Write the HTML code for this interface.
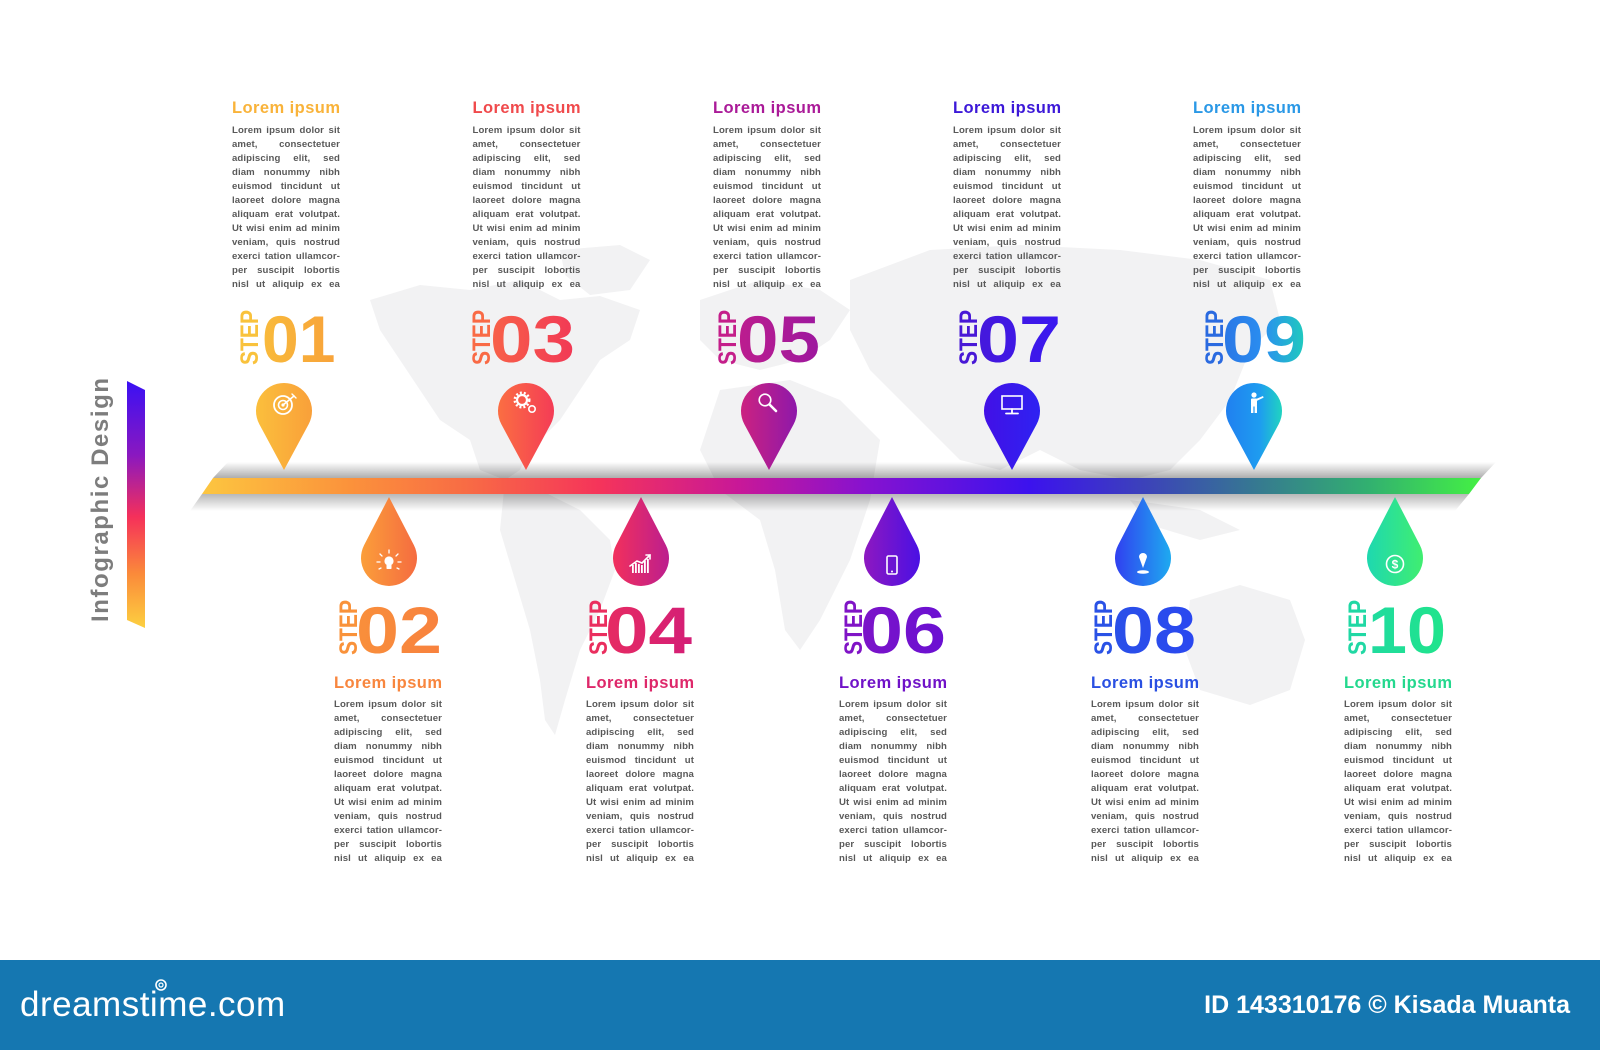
<!DOCTYPE html>
<html>
<head>
<meta charset="utf-8">
<style>
html,body{margin:0;padding:0;background:#fff;}
#wrap{position:relative;width:1600px;height:1050px;overflow:hidden;background:#fff;}
svg{position:absolute;left:0;top:0;}
.col{position:absolute;width:108px;font-family:"Liberation Sans",sans-serif;font-weight:bold;font-size:9.6px;letter-spacing:0.1px;color:#595959;line-height:14px;}
.col div{text-align:justify;text-align-last:justify;height:14px;}
</style>
</head>
<body>
<div id="wrap">
<svg width="1600" height="1050" viewBox="0 0 1600 1050" xmlns="http://www.w3.org/2000/svg">
<defs>
  <linearGradient id="bar" gradientUnits="userSpaceOnUse" x1="202" y1="0" x2="1481" y2="0">
    <stop offset="0" stop-color="#fcc640"/>
    <stop offset="0.116" stop-color="#fb923b"/>
    <stop offset="0.21" stop-color="#f86a45"/>
    <stop offset="0.31" stop-color="#f5345a"/>
    <stop offset="0.42" stop-color="#c81898"/>
    <stop offset="0.52" stop-color="#8612d0"/>
    <stop offset="0.647" stop-color="#3c12ee"/>
    <stop offset="0.74" stop-color="#3c44b8"/>
    <stop offset="0.826" stop-color="#367a90"/>
    <stop offset="0.912" stop-color="#32b070"/>
    <stop offset="1" stop-color="#44f044"/>
  </linearGradient>
  <linearGradient id="shTop" x1="0" y1="0" x2="0" y2="1">
    <stop offset="0" stop-color="#000" stop-opacity="0"/>
    <stop offset="1" stop-color="#000" stop-opacity="0.32"/>
  </linearGradient>
  <linearGradient id="shBot" x1="0" y1="0" x2="0" y2="1">
    <stop offset="0" stop-color="#000" stop-opacity="0.28"/>
    <stop offset="1" stop-color="#000" stop-opacity="0"/>
  </linearGradient>
  <linearGradient id="vbar" x1="0" y1="0" x2="0" y2="1">
    <stop offset="0" stop-color="#3a10f4"/>
    <stop offset="0.3" stop-color="#8a18c0"/>
    <stop offset="0.55" stop-color="#f5305a"/>
    <stop offset="0.78" stop-color="#fb8a3a"/>
    <stop offset="1" stop-color="#fcd040"/>
  </linearGradient>
  <linearGradient id="p1" x1="0" y1="0" x2="1" y2="0"><stop offset="0" stop-color="#fbbf3c"/><stop offset="1" stop-color="#f9a03a"/></linearGradient>
  <linearGradient id="p3" x1="0" y1="0" x2="1" y2="0"><stop offset="0" stop-color="#fb6e42"/><stop offset="1" stop-color="#f43c56"/></linearGradient>
  <linearGradient id="p5" x1="0" y1="0" x2="1" y2="0"><stop offset="0" stop-color="#cc2280"/><stop offset="1" stop-color="#8e18aa"/></linearGradient>
  <linearGradient id="p7" x1="0" y1="0" x2="1" y2="0"><stop offset="0" stop-color="#4210e6"/><stop offset="1" stop-color="#2e22f2"/></linearGradient>
  <linearGradient id="p9" x1="0" y1="0" x2="1" y2="0"><stop offset="0" stop-color="#2080f0"/><stop offset="0.6" stop-color="#1e9cf0"/><stop offset="1" stop-color="#20d4c0"/></linearGradient>
  <linearGradient id="p2" x1="0" y1="0" x2="1" y2="0"><stop offset="0" stop-color="#fb9e3a"/><stop offset="1" stop-color="#f56c40"/></linearGradient>
  <linearGradient id="p4" x1="0" y1="0" x2="1" y2="0"><stop offset="0" stop-color="#f2305c"/><stop offset="1" stop-color="#bc1e8e"/></linearGradient>
  <linearGradient id="p6" x1="0" y1="0" x2="1" y2="0"><stop offset="0" stop-color="#8e18c0"/><stop offset="1" stop-color="#4a10e4"/></linearGradient>
  <linearGradient id="p8" x1="0" y1="0" x2="1" y2="0"><stop offset="0" stop-color="#3040f0"/><stop offset="1" stop-color="#1eaaf0"/></linearGradient>
  <linearGradient id="p10" x1="0" y1="0" x2="1" y2="0"><stop offset="0" stop-color="#1ed8b0"/><stop offset="1" stop-color="#40ee70"/></linearGradient>
  <linearGradient id="s1" gradientUnits="userSpaceOnUse" x1="239" y1="0" x2="330" y2="0"><stop offset="0" stop-color="#f9c23c"/><stop offset="1" stop-color="#f8a43a"/></linearGradient>
  <linearGradient id="s3" gradientUnits="userSpaceOnUse" x1="472" y1="0" x2="572" y2="0"><stop offset="0" stop-color="#f96a45"/><stop offset="1" stop-color="#f23a55"/></linearGradient>
  <linearGradient id="s5" gradientUnits="userSpaceOnUse" x1="718" y1="0" x2="817" y2="0"><stop offset="0" stop-color="#c41e8a"/><stop offset="1" stop-color="#9e189e"/></linearGradient>
  <linearGradient id="s7" gradientUnits="userSpaceOnUse" x1="958" y1="0" x2="1057" y2="0"><stop offset="0" stop-color="#4818d6"/><stop offset="1" stop-color="#3a18f0"/></linearGradient>
  <linearGradient id="s9" gradientUnits="userSpaceOnUse" x1="1203" y1="0" x2="1303" y2="0"><stop offset="0" stop-color="#2a6ae0"/><stop offset="0.6" stop-color="#2a8ef0"/><stop offset="1" stop-color="#20c8c0"/></linearGradient>
  <linearGradient id="s2" gradientUnits="userSpaceOnUse" x1="337" y1="0" x2="439" y2="0"><stop offset="0" stop-color="#f9923a"/><stop offset="1" stop-color="#f8823e"/></linearGradient>
  <linearGradient id="s4" gradientUnits="userSpaceOnUse" x1="587" y1="0" x2="690" y2="0"><stop offset="0" stop-color="#ea2e5e"/><stop offset="1" stop-color="#d41e76"/></linearGradient>
  <linearGradient id="s6" gradientUnits="userSpaceOnUse" x1="842" y1="0" x2="943" y2="0"><stop offset="0" stop-color="#8014c6"/><stop offset="1" stop-color="#6a10d2"/></linearGradient>
  <linearGradient id="s8" gradientUnits="userSpaceOnUse" x1="1092" y1="0" x2="1193" y2="0"><stop offset="0" stop-color="#2a52e6"/><stop offset="1" stop-color="#2a48f0"/></linearGradient>
  <linearGradient id="s10" gradientUnits="userSpaceOnUse" x1="1347" y1="0" x2="1443" y2="0"><stop offset="0" stop-color="#20d8a4"/><stop offset="1" stop-color="#20e48c"/></linearGradient>
</defs>

<!-- world map -->
<g fill="#f2f2f3">
  <path d="M370,300 L420,285 L470,290 L520,280 L560,300 L600,296 L640,310 L630,340 L600,360 L580,390 L560,420 L530,450 L520,470 L505,480 L480,470 L470,440 L440,420 L420,390 L400,360 L380,330 Z"/>
  <path d="M560,250 L620,245 L650,260 L630,290 L590,295 L565,275 Z"/>
  <path d="M505,480 L540,490 L580,510 L610,540 L615,570 L600,610 L580,650 L565,700 L555,735 L545,720 L540,680 L530,630 L515,580 L500,530 Z"/>
  <path d="M700,300 L760,280 L820,290 L850,310 L830,340 L800,360 L760,370 L720,360 L700,340 Z"/>
  <path d="M720,390 L790,380 L840,400 L880,440 L870,500 L850,560 L820,620 L800,650 L785,630 L775,570 L760,520 L720,490 L700,450 Z"/>
  <path d="M850,280 L930,250 L1020,245 L1120,250 L1200,260 L1270,280 L1280,320 L1250,350 L1230,400 L1200,440 L1170,470 L1130,480 L1080,470 L1040,450 L1000,470 L960,460 L930,430 L900,400 L870,370 L850,330 Z"/>
  <path d="M1130,500 L1200,510 L1240,530 L1200,540 L1150,525 Z"/>
  <path d="M1190,600 L1240,585 L1290,600 L1305,640 L1290,690 L1250,705 L1200,690 L1185,650 Z"/>
</g>

<!-- left vertical title -->
<polygon points="127,381 145,390 145,628 127,620" fill="url(#vbar)"/>
<text transform="translate(108,622) rotate(-90)" font-family="Liberation Sans, sans-serif" font-weight="bold" font-size="24" fill="#7d7d7d" textLength="244" lengthAdjust="spacing">Infographic Design</text>

<!-- timeline bar -->
<polygon points="228,462 1496,462 1481,478 213,478" fill="url(#shTop)"/>
<polygon points="202,494 1469,494 1455,511 190,511" fill="url(#shBot)"/>
<polygon points="213,478 1481,478 1469,494 202,494" fill="url(#bar)"/>

<!-- pins -->
<path d="M284,470 L259.35,424.28 A28,28 0 1 1 308.65,424.28 Z" fill="url(#p1)"/>
<path d="M526,470 L501.35,424.28 A28,28 0 1 1 550.65,424.28 Z" fill="url(#p3)"/>
<path d="M769,470 L744.35,424.28 A28,28 0 1 1 793.65,424.28 Z" fill="url(#p5)"/>
<path d="M1012,470 L987.35,424.28 A28,28 0 1 1 1036.65,424.28 Z" fill="url(#p7)"/>
<path d="M1254,470 L1229.35,424.28 A28,28 0 1 1 1278.65,424.28 Z" fill="url(#p9)"/>

<!-- drops -->
<path d="M389,497 L413.9,545.15 A28,28 0 1 1 364.1,545.15 Z" fill="url(#p2)"/>
<path d="M641,497 L665.9,545.15 A28,28 0 1 1 616.1,545.15 Z" fill="url(#p4)"/>
<path d="M892,497 L916.9,545.15 A28,28 0 1 1 867.1,545.15 Z" fill="url(#p6)"/>
<path d="M1143,497 L1167.9,545.15 A28,28 0 1 1 1118.1,545.15 Z" fill="url(#p8)"/>
<path d="M1395,497 L1419.9,545.15 A28,28 0 1 1 1370.1,545.15 Z" fill="url(#p10)"/>

<!-- icons -->
<g stroke="#fff" fill="none" stroke-linecap="round">
  <circle cx="283" cy="405" r="9" stroke-width="1.8"/>
  <circle cx="283" cy="405" r="4.5" stroke-width="1.6"/>
  <line x1="283" y1="405" x2="294" y2="396" stroke-width="1.6"/>
  <line x1="292" y1="394" x2="296" y2="398" stroke-width="1.4"/>
  <circle cx="522" cy="400" r="5" stroke-width="2.2"/>
  <circle cx="522" cy="400" r="7.3" stroke-width="2.4" stroke-dasharray="2 2" stroke-linecap="butt"/>
  <circle cx="532" cy="409" r="3.2" stroke-width="1.6"/>
  <circle cx="765" cy="400" r="5.8" stroke-width="1.6"/>
  <line x1="769.5" y1="404.5" x2="776" y2="411" stroke-width="2.6"/>
  <rect x="1002" y="396" width="20" height="13" stroke-width="1.6"/>
  <line x1="1012" y1="409" x2="1012" y2="413" stroke-width="1.8"/>
  <line x1="1006" y1="413.5" x2="1018" y2="413.5" stroke-width="1.8"/>
  <polyline points="630,566 637,561 642,563 650,555" stroke-width="1.6"/>
  <polyline points="646,555 650,555 650,559" stroke-width="1.6"/>
  <rect x="887" y="556" width="10" height="18" rx="1.5" stroke-width="1.6"/>
  <circle cx="1395" cy="564" r="8.5" stroke-width="1.6"/>
  <g stroke-width="1.3">
    <line x1="389" y1="550" x2="389" y2="553"/>
    <line x1="380" y1="554" x2="382" y2="556"/>
    <line x1="398" y1="554" x2="396" y2="556"/>
    <line x1="377" y1="562" x2="380" y2="562"/>
    <line x1="401" y1="562" x2="398" y2="562"/>
    <line x1="379" y1="569" x2="381" y2="568"/>
    <line x1="399" y1="569" x2="397" y2="568"/>
  </g>
</g>
<g fill="#fff">
  <circle cx="283" cy="405" r="1.6"/>
  <circle cx="1254" cy="395" r="2.6"/>
  <rect x="1251" y="398.5" width="6" height="8" rx="1"/>
  <rect x="1251" y="406" width="2.4" height="7"/>
  <rect x="1254.6" y="406" width="2.4" height="7"/>
  <path d="M1256,399 L1263,396 L1263.6,397.6 L1256.6,401 Z"/>
  <circle cx="389" cy="561" r="4.6"/>
  <rect x="386.5" y="564" width="5" height="5" rx="0.8"/>
  <rect x="632" y="565" width="1.8" height="8"/>
  <rect x="635" y="563" width="1.8" height="10"/>
  <rect x="638" y="564" width="1.8" height="9"/>
  <rect x="641" y="565" width="1.8" height="8"/>
  <rect x="644" y="561" width="1.8" height="12"/>
  <rect x="647" y="559" width="1.8" height="14"/>
  <circle cx="892" cy="571.5" r="1"/>
  <path d="M1139,557 A4,4 0 1 1 1147,557 L1143,568 Z"/>
  <ellipse cx="1143" cy="572" rx="6" ry="1.8"/>
</g>
<text x="1395" y="568.5" text-anchor="middle" font-family="Liberation Sans, sans-serif" font-weight="bold" font-size="12" fill="#fff">$</text>

<!-- step numbers -->
<g font-family="Liberation Sans, sans-serif" font-weight="bold">
  <text transform="translate(258,365) rotate(-90)" font-size="25" textLength="55" lengthAdjust="spacingAndGlyphs" fill="url(#s1)">STEP</text>
  <text x="262" y="362" font-size="66" fill="url(#s1)">01</text>

  <text transform="translate(490,365) rotate(-90)" font-size="25" textLength="55" lengthAdjust="spacingAndGlyphs" fill="url(#s3)">STEP</text>
  <text x="490" y="362" font-size="66" fill="url(#s3)" textLength="85" lengthAdjust="spacingAndGlyphs">03</text>

  <text transform="translate(736,365) rotate(-90)" font-size="25" textLength="55" lengthAdjust="spacingAndGlyphs" fill="url(#s5)">STEP</text>
  <text x="737" y="362" font-size="66" fill="url(#s5)" textLength="83" lengthAdjust="spacingAndGlyphs">05</text>

  <text transform="translate(977,365) rotate(-90)" font-size="25" textLength="55" lengthAdjust="spacingAndGlyphs" fill="url(#s7)">STEP</text>
  <text x="977" y="362" font-size="66" fill="url(#s7)" textLength="84" lengthAdjust="spacingAndGlyphs">07</text>

  <text transform="translate(1223,365) rotate(-90)" font-size="25" textLength="55" lengthAdjust="spacingAndGlyphs" fill="url(#s9)">STEP</text>
  <text x="1222" y="362" font-size="66" fill="url(#s9)" textLength="84" lengthAdjust="spacingAndGlyphs">09</text>

  <text transform="translate(357,655) rotate(-90)" font-size="25" textLength="55" lengthAdjust="spacingAndGlyphs" fill="url(#s2)">STEP</text>
  <text x="356" y="653" font-size="66" fill="url(#s2)" textLength="86" lengthAdjust="spacingAndGlyphs">02</text>

  <text transform="translate(607,655) rotate(-90)" font-size="25" textLength="55" lengthAdjust="spacingAndGlyphs" fill="url(#s4)">STEP</text>
  <text x="605" y="653" font-size="66" fill="url(#s4)" textLength="87" lengthAdjust="spacingAndGlyphs">04</text>

  <text transform="translate(862,655) rotate(-90)" font-size="25" textLength="55" lengthAdjust="spacingAndGlyphs" fill="url(#s6)">STEP</text>
  <text x="860" y="653" font-size="66" fill="url(#s6)" textLength="86" lengthAdjust="spacingAndGlyphs">06</text>

  <text transform="translate(1112,655) rotate(-90)" font-size="25" textLength="55" lengthAdjust="spacingAndGlyphs" fill="url(#s8)">STEP</text>
  <text x="1112" y="653" font-size="66" fill="url(#s8)" textLength="84" lengthAdjust="spacingAndGlyphs">08</text>

  <text transform="translate(1366,655) rotate(-90)" font-size="25" textLength="55" lengthAdjust="spacingAndGlyphs" fill="url(#s10)">STEP</text>
  <text x="1368" y="653" font-size="66" fill="url(#s10)" textLength="78" lengthAdjust="spacingAndGlyphs">10</text>
</g>

<!-- titles -->
<g font-family="Liberation Sans, sans-serif" font-weight="bold" font-size="16.5">
  <text x="232" y="113" fill="#f9b33a" textLength="108" lengthAdjust="spacing">Lorem ipsum</text>
  <text x="472.5" y="113" fill="#f04a4c" textLength="108" lengthAdjust="spacing">Lorem ipsum</text>
  <text x="713" y="113" fill="#aa1a98" textLength="108" lengthAdjust="spacing">Lorem ipsum</text>
  <text x="953" y="113" fill="#3c18d8" textLength="108" lengthAdjust="spacing">Lorem ipsum</text>
  <text x="1193" y="113" fill="#2a98e6" textLength="108" lengthAdjust="spacing">Lorem ipsum</text>

  <text x="334" y="688" fill="#f8863e" textLength="108" lengthAdjust="spacing">Lorem ipsum</text>
  <text x="586" y="688" fill="#de286a" textLength="108" lengthAdjust="spacing">Lorem ipsum</text>
  <text x="839" y="688" fill="#7012c8" textLength="108" lengthAdjust="spacing">Lorem ipsum</text>
  <text x="1091" y="688" fill="#2a50e2" textLength="108" lengthAdjust="spacing">Lorem ipsum</text>
  <text x="1344" y="688" fill="#24d88e" textLength="108" lengthAdjust="spacing">Lorem ipsum</text>
</g>

<!-- footer -->
<rect x="0" y="960" width="1600" height="90" fill="#1577b1"/>
<text x="20" y="1016" font-family="Liberation Sans, sans-serif" font-size="35" fill="#fff" letter-spacing="0.5">dreamstime.com</text>
<circle cx="161" cy="985" r="5" stroke="#fff" stroke-width="1.6" fill="none"/>
<circle cx="161" cy="985" r="2" stroke="#fff" stroke-width="1.2" fill="none"/>
<text x="1570" y="1013" text-anchor="end" font-family="Liberation Sans, sans-serif" font-weight="bold" font-size="25" fill="#fff">ID 143310176 © Kisada Muanta</text>
</svg>

<div class="col" style="left:232px;top:124px;">
<div>Lorem ipsum dolor sit</div><div>amet, consectetuer</div><div>adipiscing elit, sed</div><div>diam nonummy nibh</div><div>euismod tincidunt ut</div><div>laoreet dolore magna</div><div>aliquam erat volutpat.</div><div>Ut wisi enim ad minim</div><div>veniam, quis nostrud</div><div>exerci tation ullamcor-</div><div>per suscipit lobortis</div><div>nisl ut aliquip ex ea</div>
</div>
<div class="col" style="left:472.5px;top:124px;">
<div>Lorem ipsum dolor sit</div><div>amet, consectetuer</div><div>adipiscing elit, sed</div><div>diam nonummy nibh</div><div>euismod tincidunt ut</div><div>laoreet dolore magna</div><div>aliquam erat volutpat.</div><div>Ut wisi enim ad minim</div><div>veniam, quis nostrud</div><div>exerci tation ullamcor-</div><div>per suscipit lobortis</div><div>nisl ut aliquip ex ea</div>
</div>
<div class="col" style="left:713px;top:124px;">
<div>Lorem ipsum dolor sit</div><div>amet, consectetuer</div><div>adipiscing elit, sed</div><div>diam nonummy nibh</div><div>euismod tincidunt ut</div><div>laoreet dolore magna</div><div>aliquam erat volutpat.</div><div>Ut wisi enim ad minim</div><div>veniam, quis nostrud</div><div>exerci tation ullamcor-</div><div>per suscipit lobortis</div><div>nisl ut aliquip ex ea</div>
</div>
<div class="col" style="left:953px;top:124px;">
<div>Lorem ipsum dolor sit</div><div>amet, consectetuer</div><div>adipiscing elit, sed</div><div>diam nonummy nibh</div><div>euismod tincidunt ut</div><div>laoreet dolore magna</div><div>aliquam erat volutpat.</div><div>Ut wisi enim ad minim</div><div>veniam, quis nostrud</div><div>exerci tation ullamcor-</div><div>per suscipit lobortis</div><div>nisl ut aliquip ex ea</div>
</div>
<div class="col" style="left:1193px;top:124px;">
<div>Lorem ipsum dolor sit</div><div>amet, consectetuer</div><div>adipiscing elit, sed</div><div>diam nonummy nibh</div><div>euismod tincidunt ut</div><div>laoreet dolore magna</div><div>aliquam erat volutpat.</div><div>Ut wisi enim ad minim</div><div>veniam, quis nostrud</div><div>exerci tation ullamcor-</div><div>per suscipit lobortis</div><div>nisl ut aliquip ex ea</div>
</div>

<div class="col" style="left:334px;top:698px;">
<div>Lorem ipsum dolor sit</div><div>amet, consectetuer</div><div>adipiscing elit, sed</div><div>diam nonummy nibh</div><div>euismod tincidunt ut</div><div>laoreet dolore magna</div><div>aliquam erat volutpat.</div><div>Ut wisi enim ad minim</div><div>veniam, quis nostrud</div><div>exerci tation ullamcor-</div><div>per suscipit lobortis</div><div>nisl ut aliquip ex ea</div>
</div>
<div class="col" style="left:586px;top:698px;">
<div>Lorem ipsum dolor sit</div><div>amet, consectetuer</div><div>adipiscing elit, sed</div><div>diam nonummy nibh</div><div>euismod tincidunt ut</div><div>laoreet dolore magna</div><div>aliquam erat volutpat.</div><div>Ut wisi enim ad minim</div><div>veniam, quis nostrud</div><div>exerci tation ullamcor-</div><div>per suscipit lobortis</div><div>nisl ut aliquip ex ea</div>
</div>
<div class="col" style="left:839px;top:698px;">
<div>Lorem ipsum dolor sit</div><div>amet, consectetuer</div><div>adipiscing elit, sed</div><div>diam nonummy nibh</div><div>euismod tincidunt ut</div><div>laoreet dolore magna</div><div>aliquam erat volutpat.</div><div>Ut wisi enim ad minim</div><div>veniam, quis nostrud</div><div>exerci tation ullamcor-</div><div>per suscipit lobortis</div><div>nisl ut aliquip ex ea</div>
</div>
<div class="col" style="left:1091px;top:698px;">
<div>Lorem ipsum dolor sit</div><div>amet, consectetuer</div><div>adipiscing elit, sed</div><div>diam nonummy nibh</div><div>euismod tincidunt ut</div><div>laoreet dolore magna</div><div>aliquam erat volutpat.</div><div>Ut wisi enim ad minim</div><div>veniam, quis nostrud</div><div>exerci tation ullamcor-</div><div>per suscipit lobortis</div><div>nisl ut aliquip ex ea</div>
</div>
<div class="col" style="left:1344px;top:698px;">
<div>Lorem ipsum dolor sit</div><div>amet, consectetuer</div><div>adipiscing elit, sed</div><div>diam nonummy nibh</div><div>euismod tincidunt ut</div><div>laoreet dolore magna</div><div>aliquam erat volutpat.</div><div>Ut wisi enim ad minim</div><div>veniam, quis nostrud</div><div>exerci tation ullamcor-</div><div>per suscipit lobortis</div><div>nisl ut aliquip ex ea</div>
</div>
</div>
</body>
</html>
